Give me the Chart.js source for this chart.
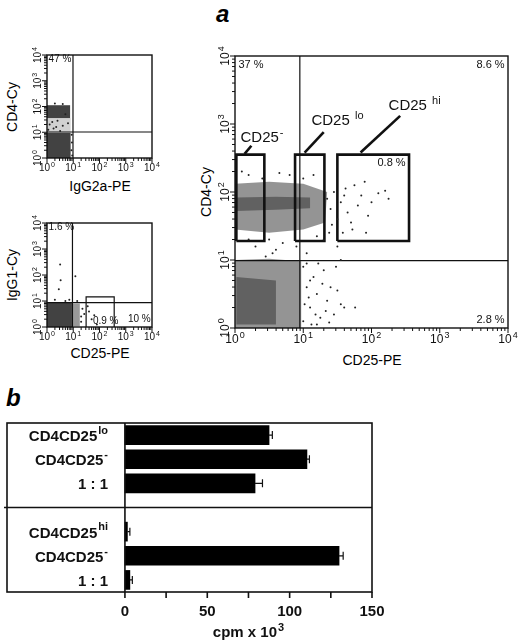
<!DOCTYPE html>
<html lang="en">
<head>
<meta charset="UTF-8">
<title>CD25 sorting</title>
<style>
  body{margin:0;background:#fff;width:520px;height:642px;position:relative;overflow:hidden;font-family:"Liberation Sans",Arial,sans-serif;}
  canvas{position:absolute;}
  .t{position:absolute;font-size:14px;white-space:nowrap;transform:translate(-50%,-50%);}
  .r{transform:translate(-50%,-50%) rotate(-90deg);}
  .p{position:absolute;font-weight:bold;font-style:italic;font-size:24px;}
</style>
</head>
<body>
<div class="p" style="left:216px;top:0px">a</div>
<div class="p" style="left:6px;top:384px">b</div>
<div class="t r" style="left:12px;top:107px">CD4-Cy</div>
<div class="t" style="left:100px;top:186px">IgG2a-PE</div>
<div class="t r" style="left:12px;top:275px">IgG1-Cy</div>
<div class="t" style="left:100px;top:353px">CD25-PE</div>
<div class="t r" style="left:206px;top:192px">CD4-Cy</div>
<div class="t" style="left:372px;top:360px">CD25-PE</div>

<canvas id="s1" style="left:17px;top:45px" width="147" height="133"></canvas>
<canvas id="s2" style="left:17px;top:213px" width="147" height="134"></canvas>
<canvas id="big" style="left:200px;top:40px" width="318" height="318"></canvas>
<canvas id="bars" style="left:0px;top:400px" width="390" height="242"></canvas>

<script src="https://cdn.jsdelivr.net/npm/chart.js"></script>
<script>
// ---- panel b data ----
var barLabels = ['CD4CD25', 'CD4CD25', '1 : 1', '', 'CD4CD25', 'CD4CD25', '1 : 1'];
var barSups   = ['lo', '-', '', '', 'hi', '-', ''];
var cpm       = [87.5, 110.5, 79, null, 1.5, 130, 3];
var cpmErr    = [2, 1.5, 4.5, null, 1.5, 2.5, 1.5];
var cpmTicks  = [0, 25, 50, 75, 100, 125, 150];

// ---- panel a data (log10 units) ----
var s1Blobs = [
  [[0,1.55],[0.88,1.55],[0.88,2.05],[0,2.05]],
  [[0,0],[0.9,0],[0.9,0.97],[0,0.97]]
];
var s1Light = [
  [[0,0.97],[0.9,0.97],[0.9,1.55],[0,1.55]]
];
var s1Dots = [[0.1,1.3],[0.2,1.4],[0.35,1.2],[0.05,1.1],[0.25,1.15],[0.4,1.45],[0.93,0.3],[0.95,0.6],[0.7,1.7],[0.3,2.12],[0.6,2.1],[0.94,0.9],[0.96,0.1],[0.6,1.25],[0.8,1.35],[0.5,1.05]];
var s1Lines = [[[0.99,0],[0.99,4]], [[0,1.01],[4,1.01]]];

var s2Blobs = [
  [[0,0],[0.95,0],[0.95,0.93],[0,0.93]]
];
var s2Light = [
  [[0.95,0.03],[1.25,0.03],[1.25,0.9],[0.95,0.9]]
];
var s2Dots = [[0.5,2.4],[0.52,1.8],[1.08,1.95],[0.45,1.45],[1.3,0.4],[1.35,0.7],[1.3,0.2],[1.42,0.5],[1.6,0.6],[1.7,0.3],[1.55,0.8],[1.9,0.1],[1.8,0.45],[0.3,1.05],[0.7,1.0],[1.15,1.0],[0.85,1.05]];
var s2Lines = [[[0.97,0],[0.97,4]], [[0,0.94],[4,0.94]], [[1.49,0],[1.49,1.16],[2.56,1.16],[2.56,0]]];

var bigLight = [
  [[0,1.45],[0.5,1.4],[1.0,1.45],[1.32,1.55],[1.35,2.0],[1.0,2.12],[0.5,2.15],[0,2.12]],
  [[0,0],[0.97,0],[0.97,0.98],[0.5,1.02],[0,1.0]]
];
var bigDark = [
  [[0.02,1.72],[0.6,1.74],[1.1,1.76],[1.1,1.92],[0.6,1.93],[0.02,1.92]],
  [[0.02,0.05],[0.6,0.05],[0.6,0.7],[0.02,0.75]]
];
var bigDots = [
  [1.35,1.9],[1.4,1.75],[1.45,2.0],[1.5,1.6],[1.55,1.85],[1.6,1.95],[1.65,1.7],[1.7,1.55],[1.75,2.1],
  [1.8,1.8],[1.85,1.95],[1.9,2.15],[1.95,1.65],[2.1,1.98],[2.2,2.02],[2.25,1.9],[1.72,1.45],[1.58,1.4],
  [1.62,2.05],[1.42,1.52],[1.3,1.3],[1.2,1.35],[0.5,1.3],[0.7,1.25],[0.2,1.3],[0.1,2.3],[0.4,2.2],
  [0.8,2.25],[1.0,2.2],[0.3,1.2],[0.6,1.15],[0.9,1.2],[0.45,1.05],[0.55,1.1],[1.05,1.1],[1.5,1.2],
  [1.55,1.0],[1.38,1.4],[0.2,2.25],[0.65,2.28],[1.15,2.25],[1.92,1.4],[2.0,1.85],
  [1.0,0.9],[1.05,0.6],[1.1,0.3],[1.15,0.75],[1.2,0.5],[1.25,0.15],[1.3,0.85],[1.35,0.4],[1.4,0.6],
  [1.45,0.2],[1.5,0.55],[1.55,0.35],[1.6,0.3],[1.0,0.1],[1.08,0.45],[1.18,0.2],[1.28,0.65],[1.05,0.95],
  [1.12,0.05],[1.22,0.95],[1.38,0.08],[1.48,0.9],[1.76,0.3],[1.02,0.35],[1.1,0.7],[1.2,0.05],[1.33,0.25]
];
var bigLines = [
  [[0.95,0],[0.95,4]], [[0,0.99],[4,0.99]]
];
var bigGates = [
  [[0.02,1.28],[0.43,1.28],[0.43,2.55],[0.02,2.55],[0.02,1.28]],
  [[0.88,1.28],[1.31,1.28],[1.31,2.55],[0.88,2.55],[0.88,1.28]],
  [[1.5,1.28],[2.55,1.28],[2.55,2.55],[1.5,2.55],[1.5,1.28]],
  [[0.14,2.56],[0.24,2.68]], [[1.02,2.58],[1.3,2.88]], [[1.84,2.58],[2.42,3.12]]
];

function drawSup(ctx, base, sup, x, y, size, align) {
  ctx.font = ctx.font.replace(/\d+px/, size + 'px');
  var wb = ctx.measureText(base).width;
  var f0 = ctx.font;
  ctx.font = f0.replace(/\d+px/, Math.round(size * 0.72) + 'px');
  var ws = sup ? ctx.measureText(sup).width + 1 : 0;
  ctx.font = f0;
  var sx = align === 'right' ? x - wb - ws : align === 'center' ? x - (wb + ws) / 2 : x;
  ctx.textAlign = 'left';
  ctx.fillText(base, sx, y);
  if (sup) {
    ctx.font = f0.replace(/\d+px/, Math.round(size * 0.72) + 'px');
    ctx.fillText(sup, sx + wb + 1, y - size * 0.42);
    ctx.font = f0;
  }
}

var supNum = ['0', '1', '2', '3', '4'];

function fillPolys(chart, polys, color) {
  var ctx = chart.ctx, xs = chart.scales.x, ys = chart.scales.y;
  ctx.fillStyle = color;
  polys.forEach(function (p) {
    ctx.beginPath();
    p.forEach(function (pt, i) {
      var px = xs.getPixelForValue(pt[0]), py = ys.getPixelForValue(pt[1]);
      if (i) ctx.lineTo(px, py); else ctx.moveTo(px, py);
    });
    ctx.closePath();
    ctx.fill();
  });
}

// frame, log ticks, tick labels, percent texts
var flowFrame = {
  id: 'flowFrame',
  beforeDatasetsDraw: function (chart, args, o) {
    chart.ctx.save();
    fillPolys(chart, o.light || [], o.lightColor);
    fillPolys(chart, o.dark || [], o.darkColor);
    chart.ctx.restore();
  },
  afterDatasetsDraw: function (chart, args, o) {
    var ctx = chart.ctx, a = chart.chartArea, xs = chart.scales.x, ys = chart.scales.y;
    ctx.save();
    ctx.strokeStyle = '#111';
    ctx.lineWidth = 1.4;
    ctx.strokeRect(a.left, a.top, a.right - a.left, a.bottom - a.top);
    ctx.lineWidth = 1;
    ctx.beginPath();
    for (var n = 0; n < 4; n++) {
      for (var k = 1; k < 10; k++) {
        var v = n + Math.log10(k), len = k === 1 ? 5 : 3;
        var px = xs.getPixelForValue(v), py = ys.getPixelForValue(v);
        ctx.moveTo(px, a.bottom); ctx.lineTo(px, a.bottom + len);
        ctx.moveTo(a.left, py); ctx.lineTo(a.left - len, py);
      }
    }
    ctx.moveTo(a.right, a.bottom); ctx.lineTo(a.right, a.bottom + 5);
    ctx.moveTo(a.left, a.top); ctx.lineTo(a.left - 5, a.top);
    ctx.stroke();
    ctx.fillStyle = '#111';
    ctx.font = o.tick + 'px "Liberation Sans", Arial, sans-serif';
    ctx.textBaseline = 'alphabetic';
    for (var i = 0; i <= 4; i++) {
      drawSup(ctx, '10', supNum[i], xs.getPixelForValue(i), a.bottom + 3 + o.tick, o.tick, 'center');
      ctx.save();
      ctx.translate(a.left - 6, ys.getPixelForValue(i));
      ctx.rotate(-Math.PI / 2);
      drawSup(ctx, '10', supNum[i], 0, 0, o.tick, 'center');
      ctx.restore();
    }
    ctx.font = o.pct + 'px "Liberation Sans", Arial, sans-serif';
    (o.texts || []).forEach(function (t) {
      ctx.textAlign = t[3] || 'left';
      ctx.fillText(t[0], xs.getPixelForValue(t[1]), ys.getPixelForValue(t[2]));
    });
    ctx.font = '15px "Liberation Sans", Arial, sans-serif';
    (o.gateLabels || []).forEach(function (t) {
      drawSup(ctx, t[0], t[1], xs.getPixelForValue(t[2]), ys.getPixelForValue(t[3]), 15, 'left');
    });
    ctx.restore();
  }
};

function lineDs(pts, w) {
  return { type: 'line', data: pts.map(function (p) { return { x: p[0], y: p[1] }; }),
    borderColor: '#111', borderWidth: w, fill: false, pointRadius: 0, tension: 0, showLine: true };
}
function dotDs(pts, r) {
  return { type: 'scatter', data: pts.map(function (p) { return { x: p[0], y: p[1] }; }),
    pointRadius: r, backgroundColor: '#222', borderWidth: 0 };
}

function flowChart(id, dots, lines, gates, pad, opt) {
  var ds = [dotDs(dots, opt.dot)];
  lines.forEach(function (l) { ds.push(lineDs(l, 1.2)); });
  gates.forEach(function (l) { ds.push(lineDs(l, opt.gate)); });
  return new Chart(document.getElementById(id), {
    type: 'scatter',
    data: { datasets: ds },
    options: {
      responsive: false, animation: false, events: [],
      layout: { padding: pad },
      plugins: { legend: { display: false }, tooltip: { enabled: false }, flowFrame: opt },
      scales: {
        x: { type: 'linear', min: 0, max: 4, display: false },
        y: { type: 'linear', min: 0, max: 4, display: false }
      }
    },
    plugins: [flowFrame]
  });
}

flowChart('s1', s1Dots, s1Lines, [], { left: 30, top: 10, right: 12, bottom: 20 },
  { dot: 1, gate: 1.2, tick: 10, pct: 10, light: s1Light, dark: s1Blobs,
    lightColor: 'rgba(0,0,0,0.18)', darkColor: 'rgba(50,50,50,0.92)', texts: [['47 %', 0.06, 3.72]] });
flowChart('s2', s2Dots, s2Lines, [], { left: 30, top: 10, right: 12, bottom: 20 },
  { dot: 1, gate: 1.2, tick: 10, pct: 10, light: s2Light, dark: s2Blobs,
    lightColor: 'rgba(0,0,0,0.4)', darkColor: 'rgba(50,50,50,0.92)',
    texts: [['1.6 %', 0.06, 3.72], ['0.9 %', 1.75, 0.12], ['10 %', 3.95, 0.2, 'right']] });
flowChart('big', bigDots, bigLines, bigGates, { left: 35, top: 16, right: 10, bottom: 30 },
  { dot: 1, gate: 2.6, tick: 12, pct: 11, light: bigLight, dark: bigDark,
    lightColor: 'rgba(0,0,0,0.42)', darkColor: 'rgba(0,0,0,0.35)',
    texts: [['37 %', 0.05, 3.83], ['8.6 %', 3.95, 3.83, 'right'], ['2.8 %', 3.95, 0.08, 'right'], ['0.8 %', 2.5, 2.38, 'right']],
    gateLabels: [['CD25', '-', 0.08, 2.73], ['CD25 ', 'lo', 1.12, 2.98], ['CD25 ', 'hi', 2.25, 3.2]] });

// ---- panel b ----
var barDeco = {
  id: 'barDeco',
  afterDatasetsDraw: function (chart) {
    var ctx = chart.ctx, a = chart.chartArea, xs = chart.scales.x, ys = chart.scales.y;
    ctx.save();
    ctx.strokeStyle = '#111';
    ctx.fillStyle = '#111';
    ctx.lineWidth = 1.6;
    ctx.strokeRect(a.left, a.top, a.right - a.left, a.bottom - a.top);
    var x0 = xs.getPixelForValue(0);
    ctx.beginPath();
    ctx.moveTo(x0, a.top); ctx.lineTo(x0, a.bottom);
    var yd = ys.getPixelForValue(3);
    ctx.moveTo(a.left - 3, yd); ctx.lineTo(a.right, yd);
    cpmTicks.forEach(function (t) {
      var px = xs.getPixelForValue(t);
      ctx.moveTo(px, a.bottom); ctx.lineTo(px, a.bottom + 6);
    });
    ctx.stroke();
    // error bars
    ctx.lineWidth = 1.2;
    cpm.forEach(function (v, i) {
      if (v === null) return;
      var y = ys.getPixelForValue(i), xa = xs.getPixelForValue(v), xb = xs.getPixelForValue(v + cpmErr[i]);
      ctx.beginPath();
      ctx.moveTo(xa, y); ctx.lineTo(xb, y);
      ctx.moveTo(xb, y - 4); ctx.lineTo(xb, y + 4);
      ctx.stroke();
    });
    ctx.font = 'bold 15px "Liberation Sans", Arial, sans-serif';
    ctx.textBaseline = 'middle';
    barLabels.forEach(function (l, i) {
      if (!l) return;
      drawSup(ctx, l, barSups[i], 108, ys.getPixelForValue(i) + 2, 15, 'right');
    });
    ctx.textBaseline = 'alphabetic';
    cpmTicks.forEach(function (t) {
      if (t % 50) return;
      drawSup(ctx, String(t), '', xs.getPixelForValue(t), a.bottom + 24, 15, 'center');
    });
    drawSup(ctx, 'cpm x 10', '3', xs.getPixelForValue(75), a.bottom + 45, 15, 'center');
    ctx.restore();
  }
};

new Chart(document.getElementById('bars'), {
  type: 'bar',
  data: {
    labels: barLabels,
    datasets: [{ data: cpm, backgroundColor: '#000', barThickness: 19, borderWidth: 0 }]
  },
  options: {
    indexAxis: 'y',
    responsive: false, animation: false, events: [],
    layout: { padding: { left: 7, right: 18, top: 23, bottom: 50 } },
    plugins: { legend: { display: false }, tooltip: { enabled: false } },
    scales: {
      x: { type: 'linear', min: -71.6, max: 150, display: false },
      y: { display: false, offset: true }
    }
  },
  plugins: [barDeco]
});
</script>
</body>
</html>
